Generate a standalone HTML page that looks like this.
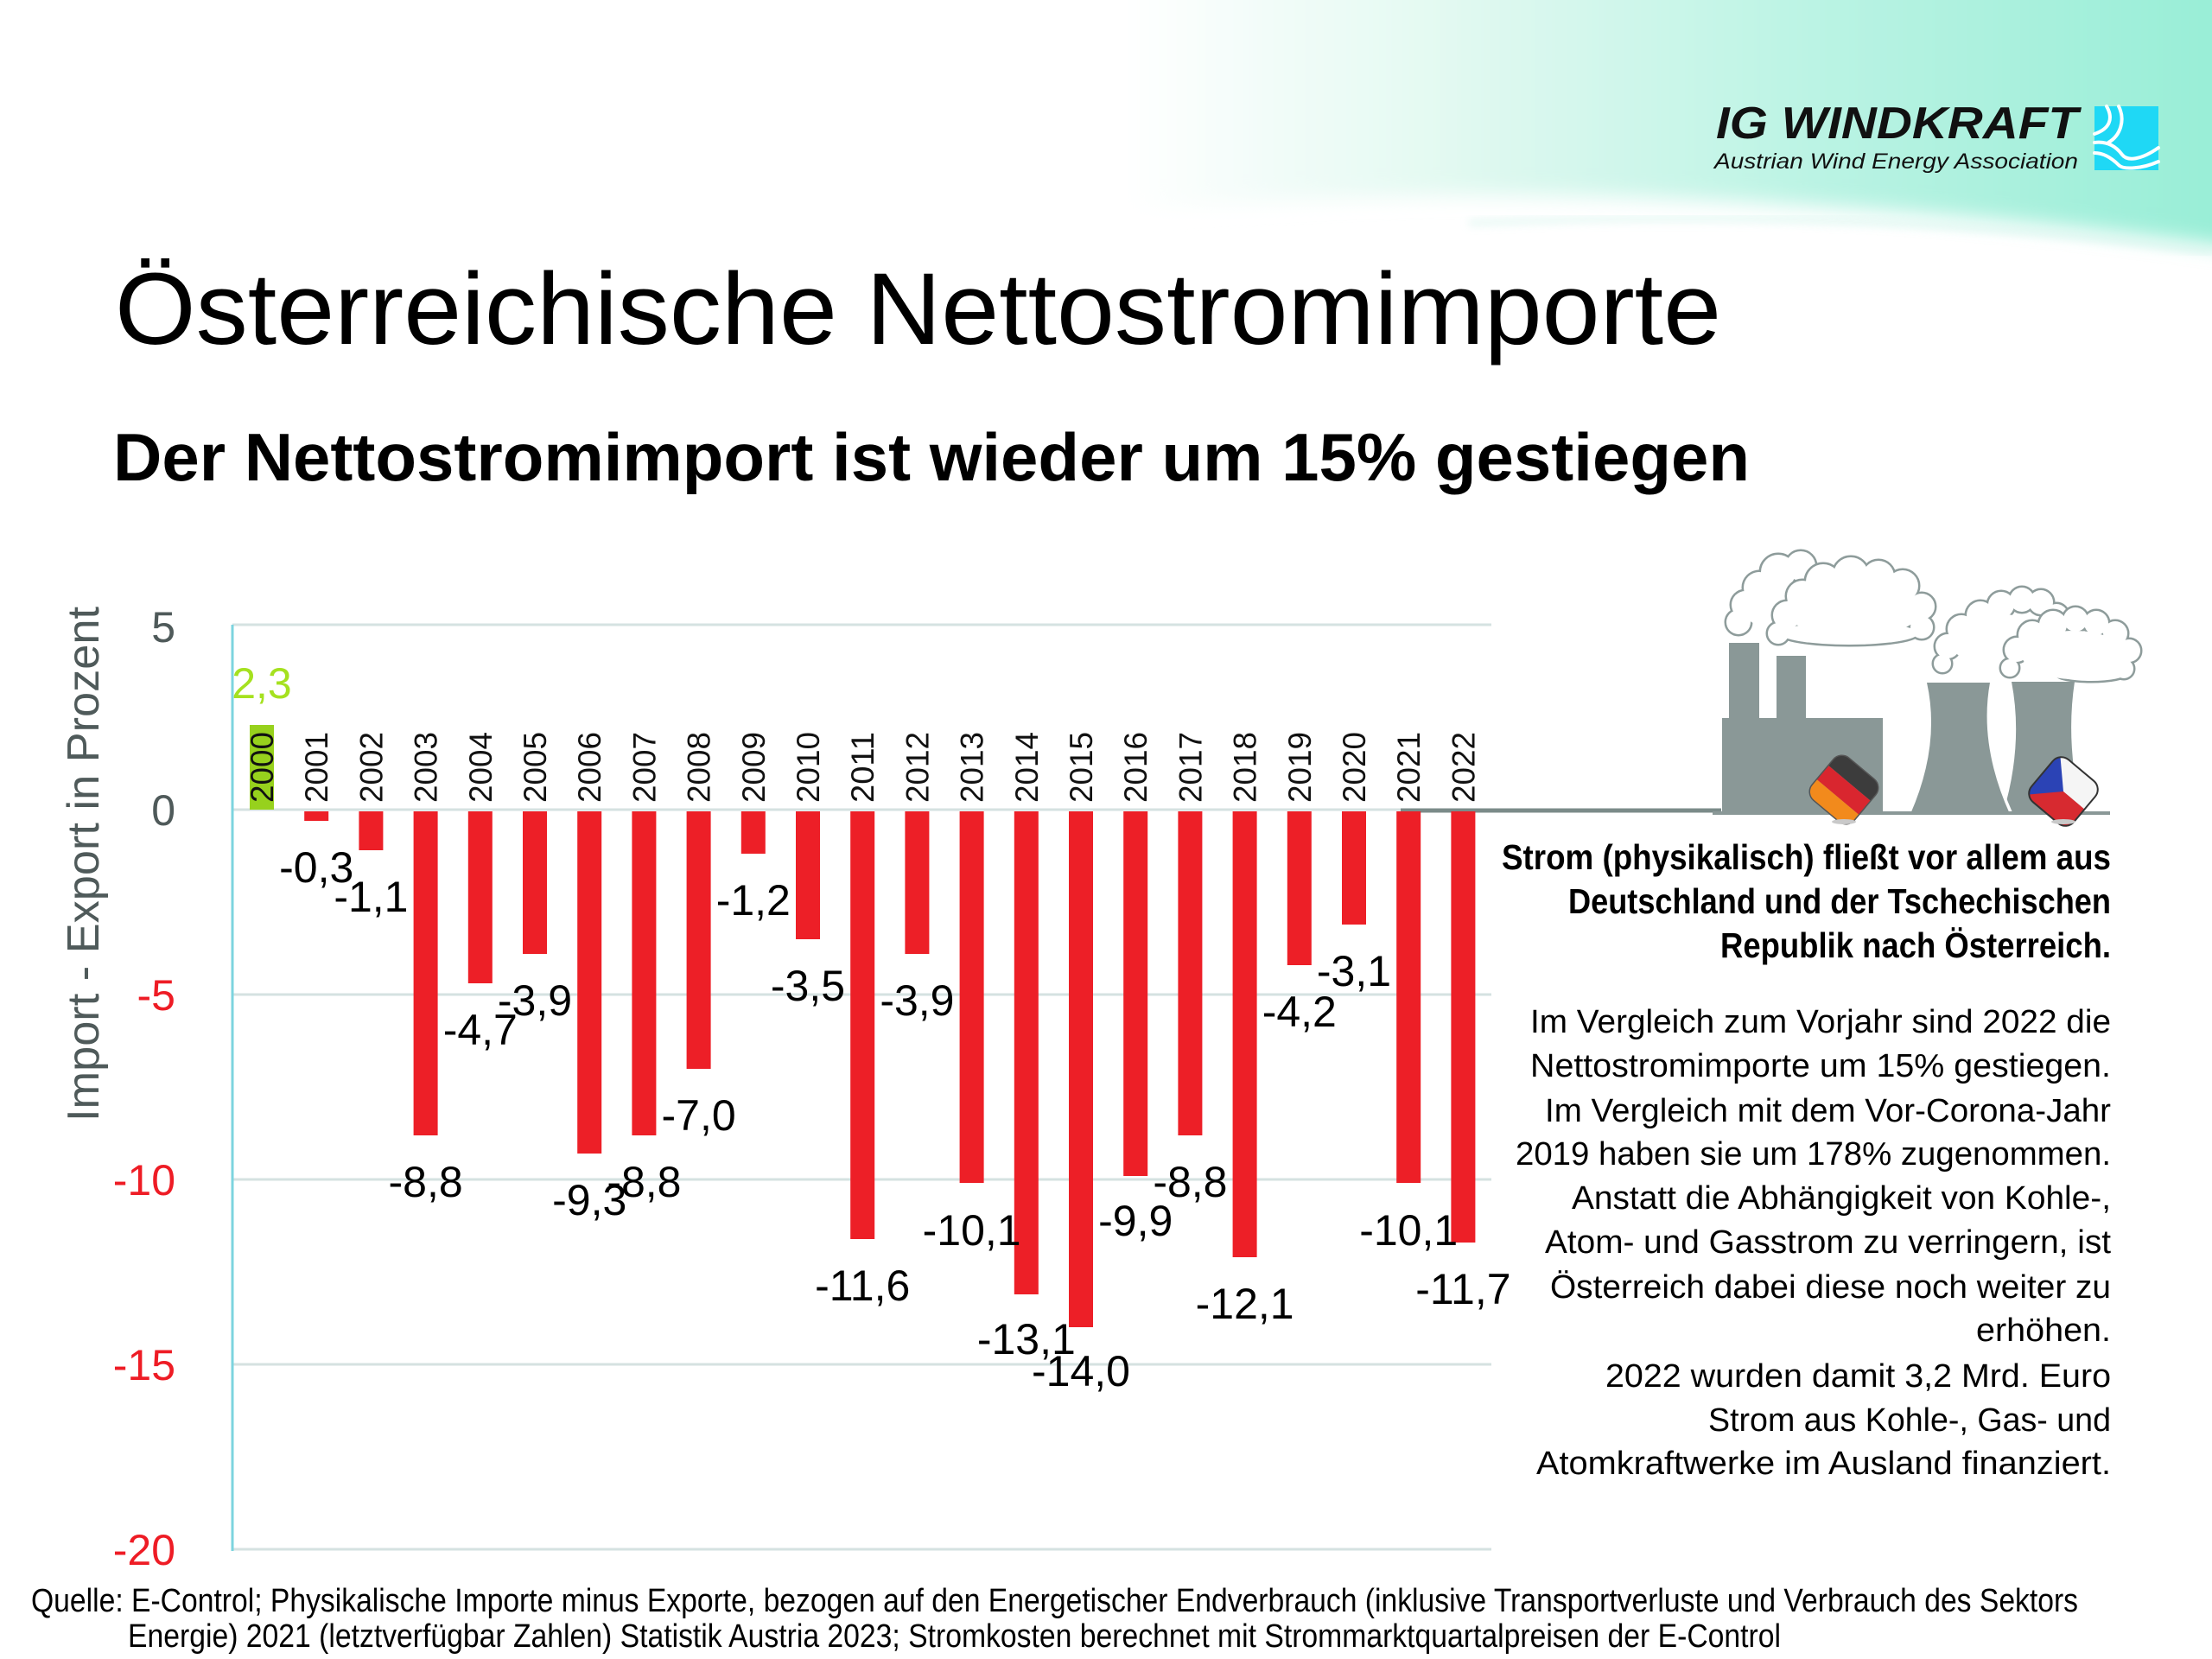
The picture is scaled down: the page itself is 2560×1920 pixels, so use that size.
<!DOCTYPE html>
<html>
<head>
<meta charset="utf-8">
<style>
  html,body{margin:0;padding:0;background:#fff;}
  svg{display:block;}
  text{font-family:"Liberation Sans", Arial, sans-serif;}
</style>
</head>
<body>
<svg xmlns="http://www.w3.org/2000/svg" width="2560" height="1920" viewBox="0 0 2560 1920">
  <defs>
    <linearGradient id="hg" x1="1300" y1="0" x2="2560" y2="0" gradientUnits="userSpaceOnUse">
      <stop offset="0" stop-color="#ffffff"/>
      <stop offset="0.3" stop-color="#e2f9f1"/>
      <stop offset="0.65" stop-color="#b9f3e3"/>
      <stop offset="1" stop-color="#99eed7"/>
    </linearGradient>
    <filter id="blur" x="-10%" y="-10%" width="120%" height="130%"><feGaussianBlur stdDeviation="12"/></filter>
    <filter id="blur2"><feGaussianBlur stdDeviation="5"/></filter>
    <clipPath id="flagclip"><rect x="-32" y="-32" width="64" height="64" rx="13"/></clipPath>
  </defs>

  <rect x="0" y="0" width="2560" height="1920" fill="#fff"/>

  <!-- header background -->
  <path d="M1290,-60 L2620,-60 L2620,292 C2300,245 1950,222 1650,226 C1480,230 1370,240 1290,244 Z" fill="url(#hg)" filter="url(#blur)"/>
  <path d="M1700,258 C2000,246 2300,256 2560,292" fill="none" stroke="#cdf2e8" stroke-width="6" opacity="0.6" filter="url(#blur2)"/>

  <!-- logo -->
  <text x="1986" y="160" font-size="52" font-weight="bold" font-style="italic" fill="#111" textLength="419" lengthAdjust="spacingAndGlyphs">IG WINDKRAFT</text>
  <text x="1984" y="195" font-size="25" font-style="italic" fill="#111" textLength="421" lengthAdjust="spacingAndGlyphs">Austrian Wind Energy Association</text>
  <g transform="translate(2424,123)">
    <rect x="0" y="0" width="74" height="74" fill="#1fd8f5"/>
    <g fill="none" stroke="#fff" stroke-width="4" stroke-linecap="round">
      <path d="M14,0 C22,14 18,26 0,32"/>
      <path d="M28,0 C36,16 30,34 16,42"/>
      <path d="M0,42 C16,40 26,48 32,56 C38,64 54,62 74,48"/>
      <path d="M0,54 C12,54 22,62 28,68 C34,74 56,72 74,64"/>
    </g>
  </g>

  <!-- titles -->
  <text x="133" y="398" font-size="118" fill="#000" textLength="1859" lengthAdjust="spacingAndGlyphs">Österreichische Nettostromimporte</text>
  <text x="131" y="556" font-size="78" font-weight="bold" fill="#000" textLength="1894" lengthAdjust="spacingAndGlyphs">Der Nettostromimport ist wieder um 15% gestiegen</text>

  <!-- gridlines -->
  <g stroke="#d5e2e1" stroke-width="3">
    <line x1="269" y1="723" x2="1726" y2="723"/>
    <line x1="269" y1="1151" x2="1726" y2="1151"/>
    <line x1="269" y1="1365" x2="1726" y2="1365"/>
    <line x1="269" y1="1579" x2="1726" y2="1579"/>
    <line x1="269" y1="1793" x2="1726" y2="1793"/>
    <line x1="269" y1="937" x2="1625" y2="937"/>
  </g>
  <line x1="1621" y1="938" x2="1992" y2="938" stroke="#7b8b89" stroke-width="5"/>
  <line x1="269" y1="723" x2="269" y2="1795" stroke="#7dd4df" stroke-width="3"/>

  <!-- y axis labels -->
  <g font-size="50" text-anchor="end">
    <text x="203" y="743" fill="#4f5a5a">5</text>
    <text x="203" y="955" fill="#4f5a5a">0</text>
    <text x="203" y="1169" fill="#ee1c25">-5</text>
    <text x="203" y="1383" fill="#ee1c25">-10</text>
    <text x="203" y="1597" fill="#ee1c25">-15</text>
    <text x="203" y="1811" fill="#ee1c25">-20</text>
  </g>
  <text transform="translate(114,1298) rotate(-90)" font-size="52" fill="#4f5a5a" textLength="596" lengthAdjust="spacingAndGlyphs">Import - Export in Prozent</text>

  <!-- bars -->
  <rect x="289" y="839" width="28" height="98" fill="#97d11d"/>
  <g fill="#ed1f27">
    <rect x="352.2" y="939" width="28" height="11"/>
    <rect x="415.4" y="939" width="28" height="45"/>
    <rect x="478.6" y="939" width="28" height="375"/>
    <rect x="541.8" y="939" width="28" height="199"/>
    <rect x="605" y="939" width="28" height="165"/>
    <rect x="668.2" y="939" width="28" height="396"/>
    <rect x="731.4" y="939" width="28" height="375"/>
    <rect x="794.6" y="939" width="28" height="298"/>
    <rect x="857.8" y="939" width="28" height="49"/>
    <rect x="921" y="939" width="28" height="148"/>
    <rect x="984.2" y="939" width="28" height="495"/>
    <rect x="1047.4" y="939" width="28" height="165"/>
    <rect x="1110.6" y="939" width="28" height="430"/>
    <rect x="1173.8" y="939" width="28" height="559"/>
    <rect x="1237" y="939" width="28" height="597"/>
    <rect x="1300.2" y="939" width="28" height="422"/>
    <rect x="1363.4" y="939" width="28" height="375"/>
    <rect x="1426.6" y="939" width="28" height="516"/>
    <rect x="1489.8" y="939" width="28" height="178"/>
    <rect x="1553" y="939" width="28" height="131"/>
    <rect x="1616.2" y="939" width="28" height="430"/>
    <rect x="1679.4" y="939" width="28" height="499"/>
  </g>

  <!-- year labels -->
  <g font-size="37" fill="#111">
    <text transform="translate(316,929) rotate(-90)" textLength="82" lengthAdjust="spacingAndGlyphs">2000</text>
    <text transform="translate(379.2,929) rotate(-90)" textLength="82" lengthAdjust="spacingAndGlyphs">2001</text>
    <text transform="translate(442.4,929) rotate(-90)" textLength="82" lengthAdjust="spacingAndGlyphs">2002</text>
    <text transform="translate(505.6,929) rotate(-90)" textLength="82" lengthAdjust="spacingAndGlyphs">2003</text>
    <text transform="translate(568.8,929) rotate(-90)" textLength="82" lengthAdjust="spacingAndGlyphs">2004</text>
    <text transform="translate(632,929) rotate(-90)" textLength="82" lengthAdjust="spacingAndGlyphs">2005</text>
    <text transform="translate(695.2,929) rotate(-90)" textLength="82" lengthAdjust="spacingAndGlyphs">2006</text>
    <text transform="translate(758.4,929) rotate(-90)" textLength="82" lengthAdjust="spacingAndGlyphs">2007</text>
    <text transform="translate(821.6,929) rotate(-90)" textLength="82" lengthAdjust="spacingAndGlyphs">2008</text>
    <text transform="translate(884.8,929) rotate(-90)" textLength="82" lengthAdjust="spacingAndGlyphs">2009</text>
    <text transform="translate(948,929) rotate(-90)" textLength="82" lengthAdjust="spacingAndGlyphs">2010</text>
    <text transform="translate(1011.2,929) rotate(-90)" textLength="82" lengthAdjust="spacingAndGlyphs">2011</text>
    <text transform="translate(1074.4,929) rotate(-90)" textLength="82" lengthAdjust="spacingAndGlyphs">2012</text>
    <text transform="translate(1137.6,929) rotate(-90)" textLength="82" lengthAdjust="spacingAndGlyphs">2013</text>
    <text transform="translate(1200.8,929) rotate(-90)" textLength="82" lengthAdjust="spacingAndGlyphs">2014</text>
    <text transform="translate(1264,929) rotate(-90)" textLength="82" lengthAdjust="spacingAndGlyphs">2015</text>
    <text transform="translate(1327.2,929) rotate(-90)" textLength="82" lengthAdjust="spacingAndGlyphs">2016</text>
    <text transform="translate(1390.4,929) rotate(-90)" textLength="82" lengthAdjust="spacingAndGlyphs">2017</text>
    <text transform="translate(1453.6,929) rotate(-90)" textLength="82" lengthAdjust="spacingAndGlyphs">2018</text>
    <text transform="translate(1516.8,929) rotate(-90)" textLength="82" lengthAdjust="spacingAndGlyphs">2019</text>
    <text transform="translate(1580,929) rotate(-90)" textLength="82" lengthAdjust="spacingAndGlyphs">2020</text>
    <text transform="translate(1643.2,929) rotate(-90)" textLength="82" lengthAdjust="spacingAndGlyphs">2021</text>
    <text transform="translate(1706.4,929) rotate(-90)" textLength="82" lengthAdjust="spacingAndGlyphs">2022</text>
  </g>

  <!-- value labels -->
  <text x="303" y="808" font-size="50" fill="#a5e11f" text-anchor="middle">2,3</text>
  <g font-size="50" fill="#000" text-anchor="middle">
    <text x="366.2" y="1021">-0,3</text>
    <text x="429.4" y="1055">-1,1</text>
    <text x="492.6" y="1385">-8,8</text>
    <text x="555.8" y="1209">-4,7</text>
    <text x="619" y="1175">-3,9</text>
    <text x="682.2" y="1406">-9,3</text>
    <text x="745.4" y="1385">-8,8</text>
    <text x="808.6" y="1308">-7,0</text>
    <text x="871.8" y="1059">-1,2</text>
    <text x="935" y="1158">-3,5</text>
    <text x="998.2" y="1505">-11,6</text>
    <text x="1061.4" y="1175">-3,9</text>
    <text x="1124.6" y="1441">-10,1</text>
    <text x="1187.8" y="1567">-13,1</text>
    <text x="1251" y="1604">-14,0</text>
    <text x="1314.2" y="1430">-9,9</text>
    <text x="1377.4" y="1385">-8,8</text>
    <text x="1440.6" y="1526">-12,1</text>
    <text x="1503.8" y="1188">-4,2</text>
    <text x="1567" y="1141">-3,1</text>
    <text x="1630.2" y="1441">-10,1</text>
    <text x="1693.4" y="1509">-11,7</text>
  </g>

  <!-- plant illustration -->
  <g>
    <!-- left clouds -->
    <g fill="none" stroke="#8e9c9b" stroke-width="5">
      <circle cx="2012" cy="720" r="14"/><circle cx="2020" cy="700" r="16"/><circle cx="2036" cy="680" r="18"/>
      <circle cx="2058" cy="662" r="20"/><circle cx="2084" cy="655" r="17"/><circle cx="2100" cy="670" r="12"/>
    </g>
    <g fill="#fff">
      <circle cx="2012" cy="720" r="14"/><circle cx="2020" cy="700" r="16"/><circle cx="2036" cy="680" r="18"/>
      <circle cx="2058" cy="662" r="20"/><circle cx="2084" cy="655" r="17"/><circle cx="2100" cy="670" r="12"/>
      <ellipse cx="2055" cy="700" rx="40" ry="28"/>
    </g>
    <g fill="none" stroke="#8e9c9b" stroke-width="5">
      <circle cx="2058" cy="733" r="12"/><circle cx="2068" cy="712" r="16"/><circle cx="2086" cy="690" r="18"/>
      <circle cx="2110" cy="673" r="20"/><circle cx="2142" cy="665" r="20"/><circle cx="2174" cy="667" r="18"/>
      <circle cx="2202" cy="678" r="18"/><circle cx="2224" cy="702" r="15"/><circle cx="2224" cy="726" r="13"/>
      <ellipse cx="2140" cy="733" rx="80" ry="13"/>
    </g>
    <g fill="#fff">
      <circle cx="2058" cy="733" r="12"/><circle cx="2068" cy="712" r="16"/><circle cx="2086" cy="690" r="18"/>
      <circle cx="2110" cy="673" r="20"/><circle cx="2142" cy="665" r="20"/><circle cx="2174" cy="667" r="18"/>
      <circle cx="2202" cy="678" r="18"/><circle cx="2224" cy="702" r="15"/><circle cx="2224" cy="726" r="13"/>
      <ellipse cx="2140" cy="733" rx="80" ry="13"/>
      <ellipse cx="2145" cy="705" rx="80" ry="32"/>
    </g>
    <!-- right clouds -->
    <g fill="none" stroke="#8e9c9b" stroke-width="5">
      <circle cx="2248" cy="768" r="10"/><circle cx="2254" cy="748" r="14"/><circle cx="2270" cy="728" r="16"/>
      <circle cx="2292" cy="712" r="16"/><circle cx="2316" cy="700" r="15"/><circle cx="2340" cy="694" r="14"/>
      <circle cx="2362" cy="697" r="14"/><circle cx="2380" cy="712" r="13"/>
    </g>
    <g fill="#fff">
      <circle cx="2248" cy="768" r="10"/><circle cx="2254" cy="748" r="14"/><circle cx="2270" cy="728" r="16"/>
      <circle cx="2292" cy="712" r="16"/><circle cx="2316" cy="700" r="15"/><circle cx="2340" cy="694" r="14"/>
      <circle cx="2362" cy="697" r="14"/><circle cx="2380" cy="712" r="13"/>
      <ellipse cx="2310" cy="740" rx="55" ry="30"/>
    </g>
    <g fill="none" stroke="#8e9c9b" stroke-width="5">
      <circle cx="2326" cy="773" r="10"/><circle cx="2334" cy="752" r="14"/><circle cx="2352" cy="735" r="16"/>
      <circle cx="2376" cy="723" r="16"/><circle cx="2402" cy="717" r="14"/><circle cx="2426" cy="721" r="14"/>
      <circle cx="2448" cy="733" r="14"/><circle cx="2464" cy="753" r="13"/><circle cx="2458" cy="774" r="11"/>
      <ellipse cx="2420" cy="780" rx="40" ry="8"/>
    </g>
    <g fill="#fff">
      <circle cx="2326" cy="773" r="10"/><circle cx="2334" cy="752" r="14"/><circle cx="2352" cy="735" r="16"/>
      <circle cx="2376" cy="723" r="16"/><circle cx="2402" cy="717" r="14"/><circle cx="2426" cy="721" r="14"/>
      <circle cx="2448" cy="733" r="14"/><circle cx="2464" cy="753" r="13"/><circle cx="2458" cy="774" r="11"/>
      <ellipse cx="2420" cy="780" rx="40" ry="8"/>
      <ellipse cx="2400" cy="758" rx="60" ry="28"/>
    </g>

    <!-- buildings -->
    <g fill="#8a9897">
      <rect x="2001" y="744" width="35" height="90"/>
      <rect x="2056" y="759" width="34" height="75"/>
      <rect x="1993" y="831" width="186" height="111"/>
      <path d="M2328,789 L2401,789 Q2390,862 2410,942 L2318,942 Q2342,862 2328,789 Z"/>
      <path d="M2230,790 L2303,790 Q2290,862 2326,942 L2211,942 Q2246,862 2230,790 Z" stroke="#fff" stroke-width="7" paint-order="stroke"/>
    </g>
    <line x1="1982" y1="941" x2="2442" y2="941" stroke="#8a9897" stroke-width="4"/>

    <!-- German flag -->
    <g transform="translate(2134,914) rotate(40)">
      <g clip-path="url(#flagclip)">
        <rect x="-32" y="-32" width="64" height="22" fill="#3c3c3c"/>
        <rect x="-32" y="-10" width="64" height="21" fill="#d9262f"/>
        <rect x="-32" y="11" width="64" height="21" fill="#f28a1c"/>
      </g>
      <rect x="-32" y="-32" width="64" height="64" rx="13" fill="none" stroke="#555" stroke-width="1.5"/>
    </g>
    <ellipse cx="2134" cy="951" rx="14" ry="3" fill="#c9c9c9"/>
    <!-- Czech flag -->
    <g transform="translate(2388,916) rotate(40)">
      <g clip-path="url(#flagclip)">
        <rect x="-32" y="-32" width="64" height="32" fill="#f5f5f5"/>
        <rect x="-32" y="0" width="64" height="32" fill="#d72a30"/>
        <path d="M-32,-32 L0,0 L-32,32 Z" fill="#2b43b5"/>
      </g>
      <rect x="-32" y="-32" width="64" height="64" rx="13" fill="none" stroke="#333" stroke-width="2"/>
    </g>
    <ellipse cx="2388" cy="951" rx="14" ry="3" fill="#c9c9c9"/>
  </g>

  <!-- right text block -->
  <g font-size="41" font-weight="bold" fill="#000">
    <text x="1738" y="1006" textLength="705" lengthAdjust="spacingAndGlyphs">Strom (physikalisch) fließt vor allem aus</text>
    <text x="1815" y="1057" textLength="628" lengthAdjust="spacingAndGlyphs">Deutschland und der Tschechischen</text>
    <text x="1991" y="1108" textLength="452" lengthAdjust="spacingAndGlyphs">Republik nach Österreich.</text>
  </g>
  <g font-size="38" fill="#000">
    <text x="1771" y="1195" textLength="672" lengthAdjust="spacingAndGlyphs">Im Vergleich zum Vorjahr sind 2022 die</text>
    <text x="1771" y="1246" textLength="672" lengthAdjust="spacingAndGlyphs">Nettostromimporte um 15% gestiegen.</text>
    <text x="1788" y="1298" textLength="655" lengthAdjust="spacingAndGlyphs">Im Vergleich mit dem Vor-Corona-Jahr</text>
    <text x="1754" y="1348" textLength="689" lengthAdjust="spacingAndGlyphs">2019 haben sie um 178% zugenommen.</text>
    <text x="1819" y="1399" textLength="624" lengthAdjust="spacingAndGlyphs">Anstatt die Abhängigkeit von Kohle-,</text>
    <text x="1788" y="1450" textLength="655" lengthAdjust="spacingAndGlyphs">Atom- und Gasstrom zu verringern, ist</text>
    <text x="1794" y="1502" textLength="649" lengthAdjust="spacingAndGlyphs">Österreich dabei diese noch weiter zu</text>
    <text x="2287" y="1552" textLength="156" lengthAdjust="spacingAndGlyphs">erhöhen.</text>
    <text x="1858" y="1605" textLength="585" lengthAdjust="spacingAndGlyphs">2022 wurden damit 3,2 Mrd. Euro</text>
    <text x="1977" y="1656" textLength="466" lengthAdjust="spacingAndGlyphs">Strom aus Kohle-, Gas- und</text>
    <text x="1778" y="1706" textLength="665" lengthAdjust="spacingAndGlyphs">Atomkraftwerke im Ausland finanziert.</text>
  </g>

  <!-- source -->
  <g font-size="38" fill="#000">
    <text x="36" y="1865" textLength="2369" lengthAdjust="spacingAndGlyphs">Quelle: E-Control; Physikalische Importe minus Exporte, bezogen auf den Energetischer Endverbrauch (inklusive Transportverluste und Verbrauch des Sektors</text>
    <text x="148" y="1906" textLength="1913" lengthAdjust="spacingAndGlyphs">Energie) 2021 (letztverfügbar Zahlen) Statistik Austria 2023; Stromkosten berechnet mit Strommarktquartalpreisen der E-Control</text>
  </g>
</svg>
</body>
</html>
